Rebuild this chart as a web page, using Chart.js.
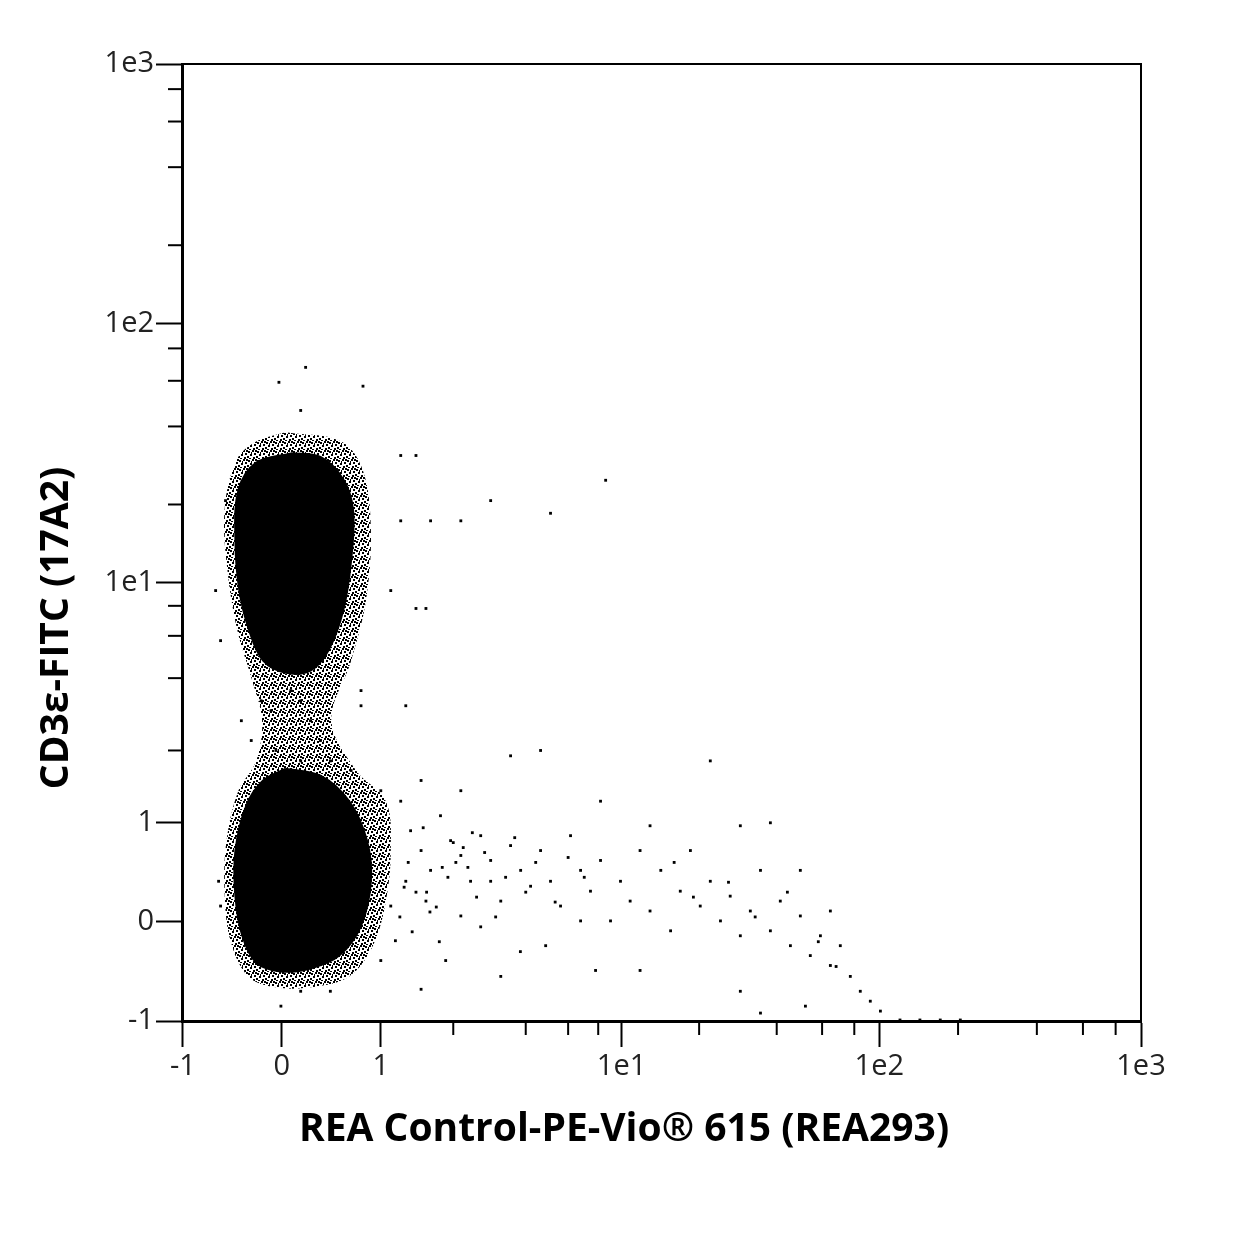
<!DOCTYPE html>
<html><head><meta charset="utf-8">
<script src="https://cdn.jsdelivr.net/npm/chart.js@4.4.1/dist/chart.umd.min.js"></script>
<style>html,body{margin:0;padding:0;background:#fff}#w{width:1250px;height:1250px}</style>
</head><body><div id="w"><canvas id="c"></canvas></div>
<script>
// ---- data (real values on biexponential axes) ----
const xMajorTicks = [-1, 0, 1, 10, 100, 1000];
const xTickLabels = ['-1', '0', '1', '1e1', '1e2', '1e3'];
const yMajorTicks = [-1, 0, 1, 10, 100, 1000];
const yTickLabels = ['-1', '0', '1', '1e1', '1e2', '1e3'];
const minorMultipliers = [2, 4, 6, 8];

const upperCoreX = [0.09,0.39,0.62,0.72,0.70,0.62,0.47,0.29,0.04,-0.19,-0.33,-0.43,-0.47,-0.44,-0.26];
const upperCoreY = [31.5,30.5,25.0,19.0,12.2,7.64,5.21,4.30,4.21,4.73,6.31,9.26,14.5,22.7,29.0];
const lowerCoreX = [0.04,0.39,0.68,0.86,0.90,0.80,0.58,0.29,-0.01,-0.26,-0.40,-0.47,-0.47,-0.36,-0.19];
const lowerCoreY = [1.68,1.57,1.23,0.82,0.41,-0.04,-0.34,-0.47,-0.50,-0.41,-0.14,0.26,0.72,1.18,1.50];
const haloX = [0.04,0.6,0.82,0.9,0.85,0.7,0.5,0.75,1.05,1.10,1.05,0.92,0.68,0.29,-0.06,-0.34,-0.52,-0.58,-0.56,-0.44,-0.26,-0.2,-0.3,-0.45,-0.55,-0.58,-0.46,-0.26];
const haloY = [38.0,35.0,27.0,15.9,8.41,4.73,2.66,1.65,1.23,0.72,0.21,-0.24,-0.55,-0.66,-0.66,-0.55,-0.19,0.31,0.82,1.36,1.81,2.66,3.9,6.31,11.1,19.0,29.6,35.0];

const sparseX = [1.21,1.33,1.47,1.61,1.77,1.95,2.15,2.36,2.60,2.86,3.15,3.46,3.81,4.19,4.61,5.07,5.58,6.14,6.76,7.43,8.18,9.00,9.9,10.8,11.8,12.9,14.2,15.5,16.9,18.5,20.2,22.1,24.2,26.4,28.9,31.6,34.6,37.8,41.3,45.2,49.4,54.0,59.1,64.6,70.6,77.2,84.4,92.3,101,120,143,171,204,
 4.61,3.46,8.18,12.9,22.1,28.9,37.8,49.4,64.6,2.86,1.54,1.86,3.15,7.80,11.8,28.9,34.6,51.7,1.47,1.0,1.15,1.10,1.27,2.15,4.84,6.76,
 0.24,-0.03,0.82,0.19,1.21,1.40,2.86,5.07,8.59,2.15,1.61,1.21,1.10,1.40,1.54,1.27,0.8,-0.41,-0.31,-0.11,0.19,0.39,-0.21,0.09,0.29,-0.06,0.19,0.49,0.7,-0.67,-0.62,-0.57,-0.64,-0.62,-0.01,0.19,0.49,0.8,1.0,1.47,2.15,
 1.3,1.4,1.5,1.7,1.9,2.0,2.3,2.5,2.7,3.0,3.3,3.6,4.0,4.4,5.3,6.0,7.0,1.25,1.6,1.8,2.2,2.6,3.8,16,19,26,33,44,58,68,1.2,1.35,1.55,1.75,2.05,2.4];
const sparseY = [1.23,0.92,0.72,0.52,1.07,0.82,0.67,0.41,0.87,0.62,0.21,0.77,0.52,0.36,0.72,0.41,0.16,0.87,0.52,0.31,0.62,0.01,0.41,0.21,0.72,0.11,0.52,-0.09,0.31,0.72,0.16,0.41,0.01,0.26,-0.14,0.11,0.52,-0.09,0.21,-0.24,0.06,-0.34,-0.14,-0.44,-0.24,-0.55,-0.70,-0.80,-0.90,-0.99,-0.99,-0.99,-0.99,
 2.0,1.9,1.23,0.97,1.81,0.97,1.0,0.52,0.11,0.41,0.21,-0.39,-0.55,-0.49,-0.49,-0.70,-0.92,-0.85,-0.68,-0.39,-0.19,0.16,0.41,0.06,-0.24,0.01,
 67.6,59.2,57.2,46.1,30.9,30.9,20.7,18.5,24.8,17.3,17.3,17.3,9.26,7.8,7.8,3.07,3.55,2.66,2.2,2.93,3.22,2.2,3.22,3.55,2.66,2.0,1.81,1.81,1.65,9.26,5.73,20.7,0.41,0.16,-0.85,-0.70,-0.70,3.07,1.36,1.50,1.36,
 0.60,0.30,0.95,0.15,0.45,0.80,0.55,0.25,0.70,0.05,0.45,0.85,0.30,0.60,0.20,0.65,0.45,0.35,0.10,0.55,0.75,-0.05,-0.30,0.60,0.25,0.40,0.05,0.30,-0.20,-0.45,0.05,-0.10,0.30,-0.20,0.60,0.90];

// ---- biexponential display transform ----
function bx(v, dec) {
  if (v <= 1) return v * 99;
  const e = Math.log10(v); const k = Math.min(Math.floor(e), 2);
  let s = 99; for (let i = 0; i < k; i++) s += dec[i];
  return s + (e - k) * dec[k];
}
const XD = [241, 258, 262], YD = [240, 259, 259];
const fx = v => bx(v, XD), fy = v => bx(v, YD);
const pts = (xs, ys) => xs.map((x, i) => ({ x: fx(x), y: fy(ys[i]) }));
const closed = (xs, ys) => { const p = pts(xs, ys); p.push(p[0]); return p; };

function dotPattern() {
  const c = document.createElement('canvas'); c.width = 9; c.height = 9;
  const g = c.getContext('2d'); g.fillStyle = '#000';
  [[0,0],[5,1],[2,3],[7,4],[4,6],[1,7],[6,8],[3,0],[8,2]].forEach(([a,b]) => g.fillRect(a, b, 2, 2));
  return g.createPattern(c, 'repeat');
}

const minorPlugin = {
  id: 'minor',
  afterDraw(chart) {
    const ctx = chart.ctx, xs = chart.scales.x, ys = chart.scales.y, a = chart.chartArea;
    ctx.save(); ctx.strokeStyle = '#000'; ctx.lineWidth = 2;
    [1, 10, 100].forEach(d => minorMultipliers.forEach(m => {
      const v = d * m;
      const px = xs.getPixelForValue(fx(v)); ctx.beginPath(); ctx.moveTo(px, a.bottom); ctx.lineTo(px, a.bottom + 14); ctx.stroke();
      const py = ys.getPixelForValue(fy(v)); ctx.beginPath(); ctx.moveTo(a.left, py); ctx.lineTo(a.left - 14, py); ctx.stroke();
    }));
    ctx.lineWidth = 2; ctx.beginPath(); ctx.moveTo(a.left, a.top); ctx.lineTo(a.right, a.top); ctx.lineTo(a.right, a.bottom); ctx.stroke();
    ctx.fillStyle = '#000'; ctx.font = 'bold 39px "Open Sans"'; ctx.textAlign = 'center'; ctx.textBaseline = 'middle';
    ctx.fillText('REA Control-PE-Vio® 615 (REA293)', 624, 1130);
    ctx.translate(57, 628); ctx.rotate(-Math.PI / 2); ctx.fillText('CD3ε-FITC (17A2)', 0, 0);
    ctx.restore();
  }
};

const tickFont = { family: '"Open Sans"', size: 29 };
new Chart(document.getElementById('c'), {
  type: 'scatter',
  data: { datasets: [
    { type: 'line', data: closed(haloX, haloY), fill: 'shape', backgroundColor: dotPattern(), borderWidth: 0, pointRadius: 0, tension: 0.35 },
    { type: 'line', data: closed(upperCoreX, upperCoreY), fill: 'shape', backgroundColor: '#000', borderColor: '#000', borderWidth: 2, pointRadius: 0, tension: 0.35 },
    { type: 'line', data: closed(lowerCoreX, lowerCoreY), fill: 'shape', backgroundColor: '#000', borderColor: '#000', borderWidth: 2, pointRadius: 0, tension: 0.35 },
    { data: pts(sparseX, sparseY), pointStyle: 'rect', pointRadius: 2, backgroundColor: '#000', borderWidth: 0 }
  ]},
  options: {
    responsive: true, maintainAspectRatio: false, animation: false,
    layout: { padding: { left: 0, right: 109, top: 64, bottom: 0 } },
    plugins: { legend: { display: false }, tooltip: { enabled: false } },
    scales: {
      x: { type: 'linear', min: fx(-1) - 1, max: fx(1000),
        afterBuildTicks: s => { s.ticks = xMajorTicks.map(v => ({ value: fx(v) })); },
        afterFit: s => { s.height = 229; },
        ticks: { autoSkip: false, maxRotation: 0, color: '#222', font: tickFont, padding: 2,
          callback: (v, i) => xTickLabels[i] },
        grid: { drawOnChartArea: false, tickLength: 26, tickWidth: 2, tickColor: '#000' },
        border: { color: '#000', width: 3 } },
      y: { type: 'linear', min: fy(-1), max: fy(1000),
        afterBuildTicks: s => { s.ticks = yMajorTicks.map(v => ({ value: fy(v) })); },
        afterFit: s => { s.width = 182; },
        ticks: { autoSkip: false, color: '#222', font: tickFont, padding: 2,
          callback: (v, i) => yTickLabels[i] },
        grid: { drawOnChartArea: false, tickLength: 26, tickWidth: 2, tickColor: '#000' },
        border: { color: '#000', width: 3 } }
    }
  },
  plugins: [minorPlugin]
});
</script></body></html>
